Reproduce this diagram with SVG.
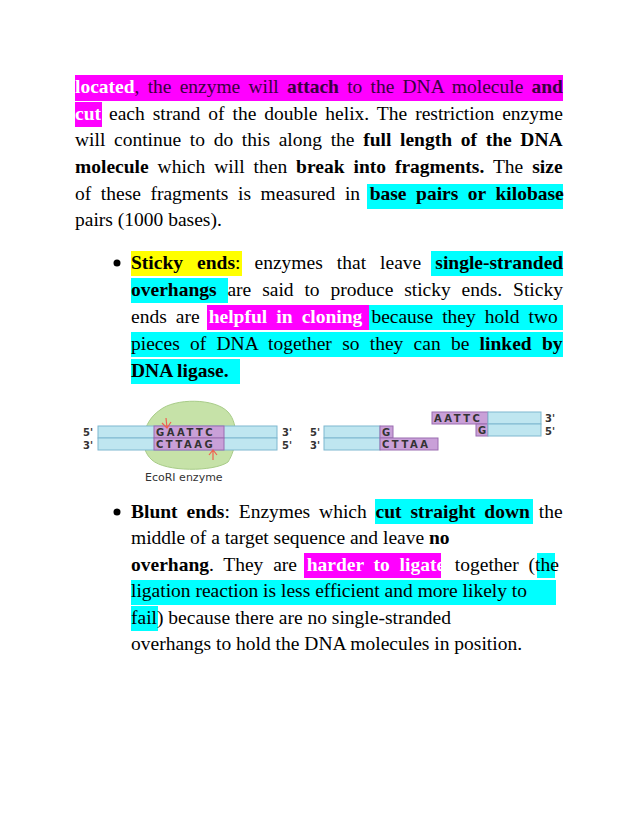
<svg xmlns="http://www.w3.org/2000/svg" width="638" height="826" viewBox="0 0 638 826">
<style>
.t{font-family:"Liberation Serif","Times New Roman",serif;font-size:19.5px;fill:#000}
.b{font-weight:bold}
.w{fill:#fff;font-weight:bold}
.m{fill:#ff00ff}.c{fill:#00ffff}.y{fill:#ffff00}
.dna{fill:#bfe6f0;stroke:#7fb8d0;stroke-width:1}
.pur{fill:#c9a0d8;stroke:#9a6cb0;stroke-width:1}
.s{font-family:"Comic Sans MS","DejaVu Sans",sans-serif;font-size:10px;font-weight:bold;fill:#333}
</style>
<rect width="638" height="826" fill="#fff"/>
<g id="highlights">
<rect class="m" x="75" y="75" width="488" height="26"/>
<rect class="m" x="75" y="102" width="27" height="25"/>
<rect class="c" x="367" y="184" width="196" height="25"/>
<rect class="y" x="131" y="251" width="111" height="25"/>
<rect class="c" x="431" y="251" width="132" height="25"/>
<rect class="c" x="131" y="278" width="97" height="25"/>
<rect class="m" x="207" y="305" width="162" height="25"/>
<rect class="c" x="369" y="305" width="194" height="25"/>
<rect class="c" x="131" y="332" width="432" height="25"/>
<rect class="c" x="131" y="359" width="109" height="25"/>
<rect class="c" x="375" y="499" width="158" height="25"/>
<rect class="m" x="304" y="553" width="137" height="25"/>
<rect class="c" x="537" y="553" width="18" height="25"/>
<rect class="c" x="131" y="580" width="425" height="25"/>
<rect class="c" x="131" y="606" width="27" height="25"/>
</g>
<g id="para1">
<text class="t" x="75" y="93" word-spacing="3.3" style="fill:#3a0040"><tspan class="w">located</tspan>, the enzyme will <tspan class="b">attach</tspan> to the DNA molecule <tspan class="b">and</tspan></text>
<text class="t" x="75" y="120" word-spacing="3.1"><tspan class="w">cut</tspan> each strand of the double helix. The restriction enzyme</text>
<text class="t" x="75" y="146" word-spacing="3.8">will continue to do this along the <tspan class="b">full length of the DNA</tspan></text>
<text class="t" x="75" y="173" word-spacing="4.1"><tspan class="b">molecule</tspan> which will then <tspan class="b">break into fragments.</tspan> The <tspan class="b">size</tspan></text>
<text class="t" x="75" y="200" word-spacing="4.7">of these fragments is measured in <tspan class="b">base pairs or kilobase</tspan></text>
<text class="t" x="75" y="226">pairs (1000 bases).</text>
</g>
<g id="sticky">
<circle cx="117" cy="263" r="3.5" fill="#000"/>
<text class="t" x="131" y="269" word-spacing="9.2"><tspan class="b">Sticky ends</tspan>: enzymes that leave <tspan class="b">single-stranded</tspan></text>
<text class="t" x="131" y="296" word-spacing="6"><tspan class="b">overhangs</tspan> are said to produce sticky ends. Sticky</text>
<text class="t" x="131" y="323" word-spacing="4.2">ends are <tspan class="w">helpful in cloning</tspan> because they hold two</text>
<text class="t" x="131" y="350" word-spacing="5.4">pieces of DNA together so they can be <tspan class="b">linked by</tspan></text>
<text class="t b" x="131" y="377">DNA ligase.</text>
</g>
<g id="figure">
<path d="M160 410 C175 398 215 398 228 412 C240 425 236 450 228 462 C214 472 165 472 152 460 C138 448 142 422 160 410Z" fill="#c6e2a8" stroke="#a8cc88"/>
<rect class="dna" x="98" y="426" width="179" height="12"/>
<rect class="dna" x="98" y="438" width="179" height="12"/>
<rect class="pur" x="154" y="426" width="70" height="12"/>
<rect class="pur" x="154" y="438" width="70" height="12"/>
<text class="s" x="156" y="436" letter-spacing="2.5">GAATTC</text>
<text class="s" x="156" y="448" letter-spacing="2.5">CTTAAG</text>
<path d="M166 418 L167 428 M162 423 L167 428 L171 422" stroke="#f06050" stroke-width="1.2" fill="none"/>
<path d="M213 460 L213 450 M209 455 L213 450 L217 455" stroke="#f06050" stroke-width="1.2" fill="none"/>
<text class="s" x="83" y="436">5'</text><text class="s" x="83" y="449">3'</text>
<text class="s" x="282" y="436">3'</text><text class="s" x="282" y="449">5'</text>
<text class="s" x="145" y="481" style="font-weight:normal;font-size:11px">EcoRI enzyme</text>
<rect class="dna" x="324" y="426" width="56" height="12"/>
<rect class="dna" x="324" y="438" width="56" height="12"/>
<rect class="pur" x="380" y="426" width="13" height="12"/>
<rect class="pur" x="380" y="438" width="58" height="12"/>
<text class="s" x="382" y="436">G</text>
<text class="s" x="382" y="448" letter-spacing="2.5">CTTAA</text>
<text class="s" x="310" y="436">5'</text><text class="s" x="310" y="449">3'</text>
<rect class="pur" x="432" y="412" width="56" height="12"/>
<rect class="pur" x="476" y="424" width="12" height="12"/>
<rect class="dna" x="488" y="412" width="53" height="12"/>
<rect class="dna" x="488" y="424" width="53" height="12"/>
<text class="s" x="434" y="422" letter-spacing="2.5">AATTC</text>
<text class="s" x="478" y="434">G</text>
<text class="s" x="545" y="422">3'</text><text class="s" x="545" y="435">5'</text>
</g>
<g id="blunt">
<circle cx="117" cy="512" r="3.5" fill="#000"/>
<text class="t" x="131" y="518" word-spacing="4"><tspan class="b">Blunt ends</tspan>: Enzymes which <tspan class="b">cut straight down</tspan> the</text>
<text class="t" x="131" y="544">middle of a target sequence and leave <tspan class="b">no</tspan></text>
<text class="t" x="131" y="571" word-spacing="4.9"><tspan class="b">overhang</tspan>. They are <tspan class="w">harder to ligate</tspan> together (the</text>
<text class="t" x="131" y="597">ligation reaction is less efficient and more likely to</text>
<text class="t" x="131" y="624">fail) because there are no single-stranded</text>
<text class="t" x="131" y="650">overhangs to hold the DNA molecules in position.</text>
</g>
</svg>
